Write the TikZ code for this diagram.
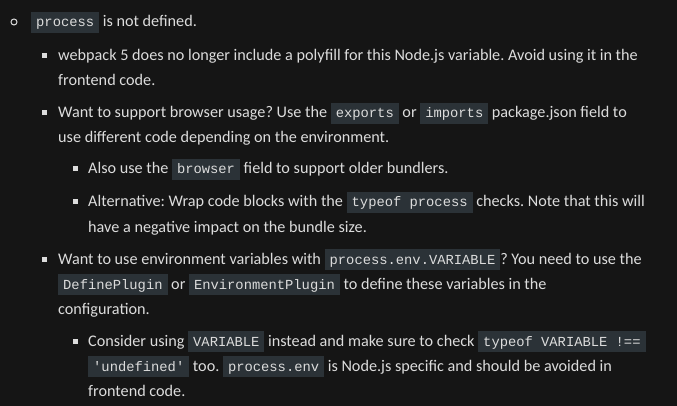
\documentclass[tikz,border=0pt]{standalone}
\usepackage{fontspec}
\setmainfont{Carlito}
\setmonofont{Liberation Mono}
\definecolor{bg}{HTML}{151515}
\definecolor{fg}{HTML}{DCDCDC}
\definecolor{codebg}{HTML}{2B3237}
\newcommand{\cd}[1]{{\setlength\fboxsep{0pt}\colorbox{codebg}{\hspace{5pt}\rule[-6pt]{0pt}{21pt}\fontsize{13.8}{15}\ttfamily #1\hspace{5pt}}}}
\begin{document}
\begin{tikzpicture}[x=1pt,y=-1pt,
  ln/.style={anchor=base west,inner sep=0pt,text=fg,font=\fontsize{16.2}{19}\selectfont\frenchspacing},
  sq/.style={fill=fg,minimum size=5pt,inner sep=0pt}]
\fill[bg] (0,0) rectangle (677,406);
\useasboundingbox (0,0) rectangle (677,406);
\draw[fg,line width=1pt] (14,22) circle (3);
\node[ln] (l1) at (31,27) {\cd{process}\ is not defined.};
\node[sq] (b2) at (44,56) {};
\node[ln] (l2) at (58,61) {webpack 5 does no longer include a polyfill for this Node.js variable. Avoid using it in the};
\node[ln] (l3) at (58,86) {frontend code.};
\node[sq] (b4) at (44,113) {};
\node[ln] (l4) at (58,118) {Want to support browser usage? Use the \cd{exports} or \cd{imports} package.json field to};
\node[ln] (l5) at (58,143) {use different code depending on the environment.};
\node[sq] (b6) at (75,169) {};
\node[ln] (l6) at (88,174) {Also use the \cd{browser} field to support older bundlers.};
\node[sq] (b7) at (75,202) {};
\node[ln] (l7) at (88,207) {Alternative: Wrap code blocks with the \cd{typeof process} checks. Note that this will};
\node[ln] (l8) at (88,232) {have a negative impact on the bundle size.};
\node[sq] (b9) at (44,259) {};
\node[ln] (l9) at (58,264) {Want to use environment variables with \cd{process.env.VARIABLE}? You need to use the};
\node[ln] (l10) at (58,289) {\cd{DefinePlugin} or \cd{EnvironmentPlugin} to define these variables in the};
\node[ln] (l11) at (58,314) {configuration.};
\node[sq] (b12) at (75,341) {};
\node[ln] (l12) at (88,346) {Consider using \cd{VARIABLE} instead and make sure to check \cd{typeof VARIABLE !==}};
\node[ln] (l13) at (88,371) {\cd{'undefined'} too. \cd{process.env} is Node.js specific and should be avoided in};
\node[ln] (l14) at (88,396) {frontend code.};
\end{tikzpicture}
\end{document}
